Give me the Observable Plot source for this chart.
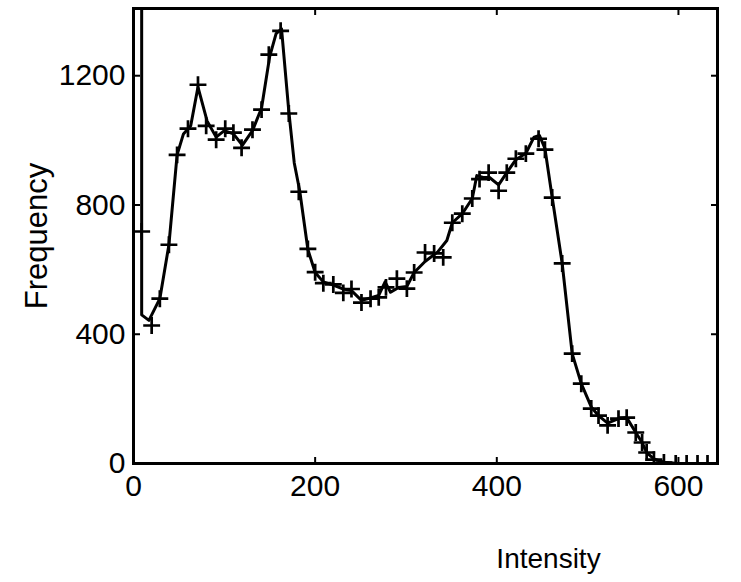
<!DOCTYPE html>
<html><head><meta charset="utf-8">
<script src="https://cdn.jsdelivr.net/npm/d3@7"></script>
<script src="https://cdn.jsdelivr.net/npm/@observablehq/plot@0.6"></script>
<style>body{margin:0;background:#fff}</style>
</head><body><div id="chart"></div>
<script>
// Curve vertices (Intensity, Frequency)
const lineX = [9,9,17,29,39,48,55,63,71,81,91,100,110,120,131,141,150,157,163,171,177,183,192,200,209,220,231,240,251,261,270,277,283,292,301,309,321,335,345,351,362,373,378,385,392,402,411,421,432,441,447,453,461,472,483,493,504,512,522,534,543,553,560,565,573,584,597,609,634];
const lineY = [1800,460,443,510,677,955,1020,1045,1165,1060,1010,1030,1020,985,1030,1100,1260,1330,1345,1090,930,844,662,591,562,552,540,535,505,512,520,562,530,545,548,591,625,655,690,745,773,820,891,885,885,862,900,940,960,1010,1015,975,823,619,340,247,175,148,125,139,142,96,65,34,14,4,1,0,0];
// Plus markers (Intensity, Frequency)
const markX = [9,20,29,39,48,60,71,80,91,101,110,119,131,141,149,162,171,182,192,200,209,220,231,240,251,261,270,278,290,301,309,321,331,341,351,362,373,381,391,402,411,421,432,446,453,461,472,483,493,504,512,522,534,543,553,560,565,573,584,597,609,621,632];
const markY = [718,427,510,677,955,1036,1172,1045,1002,1036,1024,977,1033,1095,1265,1339,1083,841,664,592,558,554,528,540,498,510,514,545,572,541,591,653,650,638,745,773,820,880,900,844,900,943,959,1005,971,823,619,340,247,170,148,118,139,142,96,65,34,12,3,0,0,0,0];
const xTicks = [0,200,400,600];
const yTicks = [0,400,800,1200];
const xLabel = "Intensity";
const yLabel = "Frequency";

const lineData = lineX.map((x,i)=>({x, y: lineY[i]}));
const markData = markX.map((x,i)=>({x, y: markY[i]}));

const font = "'Liberation Sans', Arial, Helvetica, sans-serif";
const fmt = d3.format("d");
const chart = Plot.plot({
  width: 741, height: 582,
  marginLeft: 133, marginRight: 24, marginTop: 8, marginBottom: 119,
  style: {fontFamily: font, fontSize: "30px", background: "#fff", color: "#000"},
  x: {domain: [0, 643]},
  y: {domain: [0, 1408]},
  marks: [
    Plot.line(lineData, {x: "x", y: "y", stroke: "#000", strokeWidth: 3, clip: true}),
    Plot.dot(markData, {x: "x", y: "y", symbol: "plus", r: 5.5, stroke: "#000", strokeWidth: 2.7, clip: true}),
    Plot.axisX({ticks: xTicks, tickFormat: fmt, tickSize: -6, tickPadding: 17, label: null, fontSize: 30, strokeWidth: 2}),
    Plot.axisX({anchor: "top", ticks: xTicks.slice(1), tickSize: -6, tickFormat: () => "", label: null, strokeWidth: 2}),
    Plot.axisY({ticks: yTicks, tickFormat: fmt, tickSize: -7, tickPadding: 15, label: null, fontSize: 30, strokeWidth: 2}),
    Plot.axisY({anchor: "right", ticks: yTicks.slice(1), tickSize: -7, tickFormat: () => "", label: null, strokeWidth: 2}),
    Plot.frame({stroke: "#000", strokeWidth: 3}),
    Plot.text([xLabel], {frameAnchor: "bottom", dx: 123, dy: 96, fontSize: 28, lineAnchor: "middle", textAnchor: "middle"}),
    Plot.text([yLabel], {frameAnchor: "left", dx: -96, rotate: -90, fontSize: 31, lineAnchor: "middle", textAnchor: "middle"})
  ]
});
document.getElementById("chart").append(chart);
</script>
</body></html>
